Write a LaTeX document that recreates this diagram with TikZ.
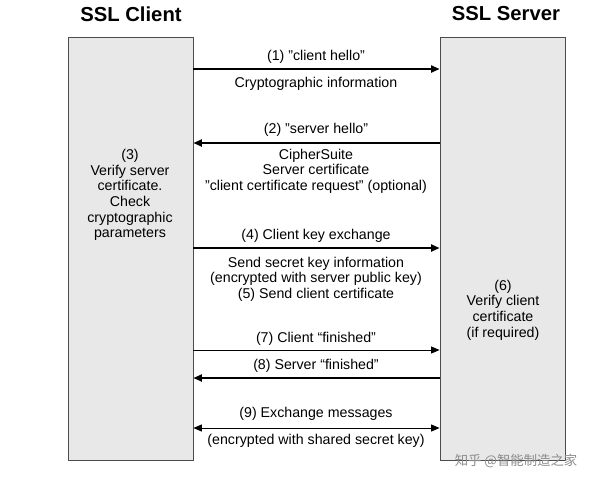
\documentclass[tikz,border=0pt]{standalone}
\usepackage{fontspec}
\setmainfont{Liberation Sans}
\newfontfamily\cjk{Noto Sans CJK SC}
\usetikzlibrary{arrows.meta}
\newcommand{\dq}{\symbol{34}}
\begin{document}
\begin{tikzpicture}[x=0.025cm,y=-0.025cm,
  box/.style={draw=black!70,fill=black!9,line width=0.6pt,minimum width=3.125cm,minimum height=10.575cm,inner sep=0pt},
  txt/.style={font=\fontsize{10.1}{11.1}\selectfont,align=center,inner sep=0pt},
  ttl/.style={font=\fontsize{14.4}{16}\selectfont\bfseries,inner sep=0pt},
  msg/.style={line width=1.3pt,-{Triangle[length=6pt,width=5pt]}},
  msgt/.style={line width=0.6pt,-{Triangle[length=6pt,width=5pt]}},
  dmsg/.style={line width=0.6pt,{Triangle[length=6pt,width=5pt]}-{Triangle[length=6pt,width=5pt]}}]
\useasboundingbox (0,0) rectangle (600,483);
\node[box] (cl) at (130.5,248.5) {};
\node[box] (sv) at (502.5,248.5) {};
\node[ttl] (tc) at (131,14) {SSL Client};
\node[ttl] (ts) at (506,14) {SSL Server};
\node[txt] (n3) at (130,195) {(3)\\Verify server\\certificate.\\Check\\cryptographic\\parameters};
\node[txt] (n6) at (503,310) {(6)\\Verify client\\certificate\\(if required)};
\foreach \n/\y in {a/69,b/143,c/248,d/350,e/378,f/428}{
  \coordinate (l\n) at (cl.east |- 0,\y);
  \coordinate (r\n) at (sv.west |- 0,\y);
}
\draw[msg] (la) -- (ra);
\draw[msg] (rb) -- (lb);
\draw[msg] (lc) -- (rc);
\draw[msgt] (ld) -- (rd);
\draw[msg] (re) -- (le);
\draw[dmsg] (lf) -- (rf);
\node[txt] (t1) at (316,57) {(1) \dq client hello\dq};
\node[txt] (t1b) at (316,84) {Cryptographic information};
\node[txt] (t2) at (316,130) {(2) \dq server hello\dq};
\node[txt] (t2b) at (316,171) {CipherSuite\\Server certificate\\\dq client certificate request\dq{} (optional)};
\node[txt] (t4) at (316,236) {(4) Client key exchange};
\node[txt] (t4b) at (316,279) {Send secret key information\\(encrypted with server public key)\\(5) Send client certificate};
\node[txt] (t7) at (316,339) {(7) Client “finished”};
\node[txt] (t8) at (316,366) {(8) Server “finished”};
\node[txt] (t9) at (316,414) {(9) Exchange messages};
\node[txt] (t9b) at (316,441) {(encrypted with shared secret key)};
\node[inner sep=0pt,text=black!45,font=\cjk\fontsize{9.5}{10}\selectfont] (wm) at (516,461) {知乎 @智能制造之家};
\end{tikzpicture}
\end{document}
